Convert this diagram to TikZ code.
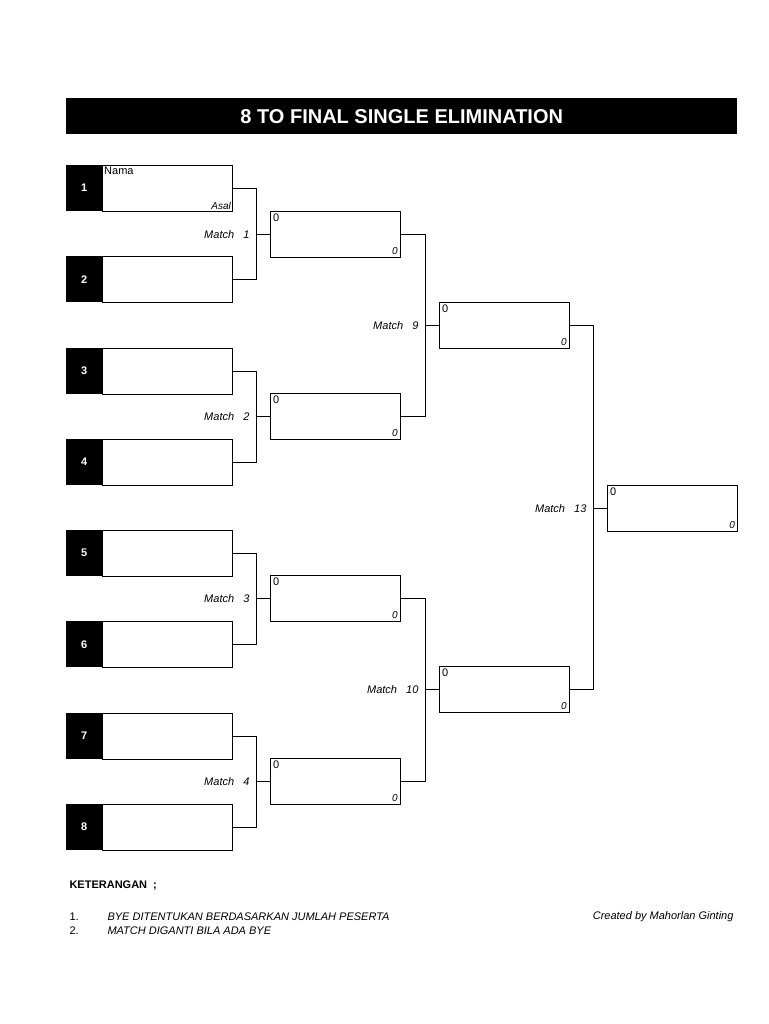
\documentclass[tikz,border=0pt]{standalone}
\usepackage{fontspec}
\setmainfont{Liberation Sans}
\usetikzlibrary{positioning}

\begin{document}
\begin{tikzpicture}[
        x=1pt, y=-1pt,
        every node/.style={font=\fontsize{11}{12}\selectfont},
        seed/.style={fill=black, text=white, font=\bfseries\fontsize{11}{12}\selectfont,
            minimum width=36pt, minimum height=46pt, inner sep=0pt, anchor=north west},
        entry/.style={draw, line width=1pt, minimum width=130pt, minimum height=46pt,
            inner sep=0pt, anchor=north west},
        bracket/.style={line width=1pt},
        match/.style={anchor=east, font=\itshape\fontsize{11}{12}\selectfont},
    ]
    \useasboundingbox (0,0) rectangle (768,1024);

    % title
    \node[fill=black, text=white, font=\bfseries\fontsize{20}{24}\selectfont,
        minimum width=671pt, minimum height=36pt, inner sep=0pt, anchor=north west]
        (title) at (66,98) {8 TO FINAL SINGLE ELIMINATION};

    % first round entries
    \foreach \i in {1,...,8} {
        \pgfmathsetmacro{\ty}{165+(\i-1)*91.25}
        \node[seed] (s\i) at (66,\ty) {\i};
        \node[entry, minimum width=130pt] (e\i) at (102,\ty) {};
    }
    \node[anchor=north west, inner sep=2pt] at (e1.north west) {Nama};
    \node[anchor=south east, inner sep=2pt, font=\itshape\fontsize{10}{11}\selectfont]
        at (e1.south east) {Asal};

    % round boxes
    \foreach \n/\bx/\by in {w1/270/211, w2/270/393, w3/270/575, w4/270/758,
                           w9/439/302, w10/439/666, w13/607/485} {
        \node[entry] (\n) at (\bx,\by) {};
        \node[anchor=north west, inner sep=3pt] at (\n.north west) {0};
        \node[anchor=south east, inner sep=3pt, font=\itshape\fontsize{10}{11}\selectfont]
            at (\n.south east) {0};
    }

    % brackets
    \foreach \a/\b/\w/\xm/\m in {e1/e2/w1/256/1, e3/e4/w2/256/2, e5/e6/w3/256/3,
                                 e7/e8/w4/256/4, w1/w2/w9/425/9, w3/w4/w10/425/10,
                                 w9/w10/w13/593/13} {
        \draw[bracket] (\a.east) -| (\xm,0 |- \b.east) -- (\b.east);
        \draw[bracket] (\xm,0 |- \w.west) -- (\w.west);
        \node[match] at ([xshift=-3pt]\xm,0 |- \w.west) {Match\ \ \ \m};
    }

    % notes
    \node[anchor=west, font=\bfseries\fontsize{11}{12}\selectfont] (ket) at (66,885)
        {KETERANGAN \;;};
    \node[anchor=west] (n1) at (66,917) {1.};
    \node[anchor=west] (n2) at (66,931) {2.};
    \node[anchor=west, font=\itshape\fontsize{11}{12}\selectfont] at (104,917)
        {BYE DITENTUKAN BERDASARKAN JUMLAH PESERTA};
    \node[anchor=west, font=\itshape\fontsize{11}{12}\selectfont] at (104,931)
        {MATCH DIGANTI BILA ADA BYE};
    \node[anchor=east, font=\itshape\fontsize{11}{12}\selectfont] (credit) at (737,917)
        {Created by Mahorlan Ginting};
\end{tikzpicture}
\end{document}
